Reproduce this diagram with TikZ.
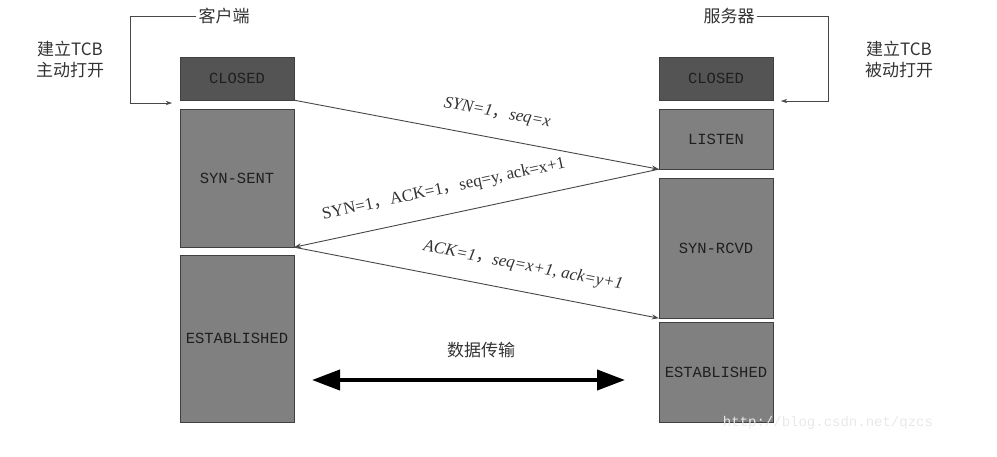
\documentclass[tikz,border=0pt]{standalone}
\usepackage{fontspec}
\setmainfont{Liberation Serif}
\setmonofont{Liberation Mono}
\newfontfamily\cjk{Noto Sans CJK SC}
\usetikzlibrary{arrows.meta}

\colorlet{closed area}{black!67}
\colorlet{state area}{black!50}
\colorlet{state edge}{black!75}
\colorlet{line edge}{black!72}
\newcommand{\dou}{{\cjk ，}}

\tikzset{
  state/.style={draw=state edge, fill=state area, minimum width=114pt,
  inner sep=0pt, font=\ttfamily\fontsize{15.5}{17}\selectfont, text=black!88},
  msg/.style={draw=line edge, line width=0.9pt, -{Stealth[length=7pt,width=5pt]}},
  msglabel/.style={sloped, above=17pt, inner sep=0pt,
  font=\fontsize{17}{19}\selectfont, text=black!80}
  }
\tikzstyle{bracket} = [draw=line edge, -{Stealth[length=6pt,width=4pt]}]
\tikzstyle{cjklabel} = [font=\cjk\fontsize{17}{21}\selectfont, text=black!80, align=center, inner sep=2pt]
\tikzstyle{transfer} = [draw, line width=4pt, {Triangle[length=28pt,width=20pt]}-{Triangle[length=28pt,width=20pt]}]
\tikzstyle{watermark} = [font=\ttfamily\fontsize{14}{16}\selectfont, text=black!9]

\begin{document}
\begin{tikzpicture}[x=1pt, y=-1pt]
    \useasboundingbox (0,0) rectangle (997,456);

    % States of both ends
    \foreach \pos/\name/\txt/\h/\col in {{(237,78.5)/cclosed/CLOSED/43/closed area},
      {(237,178)/csent/SYN-SENT/138/state area}, {(237,338.5)/cest/ESTABLISHED/167/state area},
      {(716,78.5)/sclosed/CLOSED/43/closed area}, {(716,139)/slisten/LISTEN/60/state area},
      {(716,248)/srcvd/SYN-RCVD/140/state area}, {(716,372)/sest/ESTABLISHED/100/state area}} {
      \node[state, fill=\col, minimum height=\h pt] (\name) at \pos {\txt};
    }

    \node[watermark] (mark) at (828,423) {http://blog.csdn.net/qzcs};

    % Client and server
    \node[cjklabel] (client) at (224,16) {客户端};
    \node[cjklabel] (server) at (729,16) {服务器};
    \node[cjklabel] (copen) at (70,60) {建立TCB\\主动打开};
    \node[cjklabel] (sopen) at (899,60) {建立TCB\\被动打开};
    \coordinate (centry) at (172,103);
    \coordinate (sentry) at (781,101);
    \path[bracket] (client.west) -- ++(-66,0) |- (centry);
    \path[bracket] (server.east) -- ++(71,0) |- (sentry);

    % Three-way handshake
    \path[msg] (cclosed.south east) -- node[msglabel, pos=0.544] (syn) {\itshape SYN=1\dou seq=x} (slisten.south west);
    \path[msg] (slisten.south west) -- node[msglabel, pos=0.575] (synack) {SYN=1\dou ACK=1\dou seq=y, ack=x+1} (csent.south east);
    \path[msg] (csent.south east) -- node[msglabel, pos=0.615] (ack) {\itshape ACK=1\dou seq=x+1, ack=y+1} (srcvd.south west);

    % Data transfer
    \node[cjklabel] (data) at (481,350) {数据传输};
    \coordinate (dleft) at (312,380);
    \coordinate (dright) at (625,380);
    \path[transfer] (dleft) -- (dright);
\end{tikzpicture}
\end{document}
